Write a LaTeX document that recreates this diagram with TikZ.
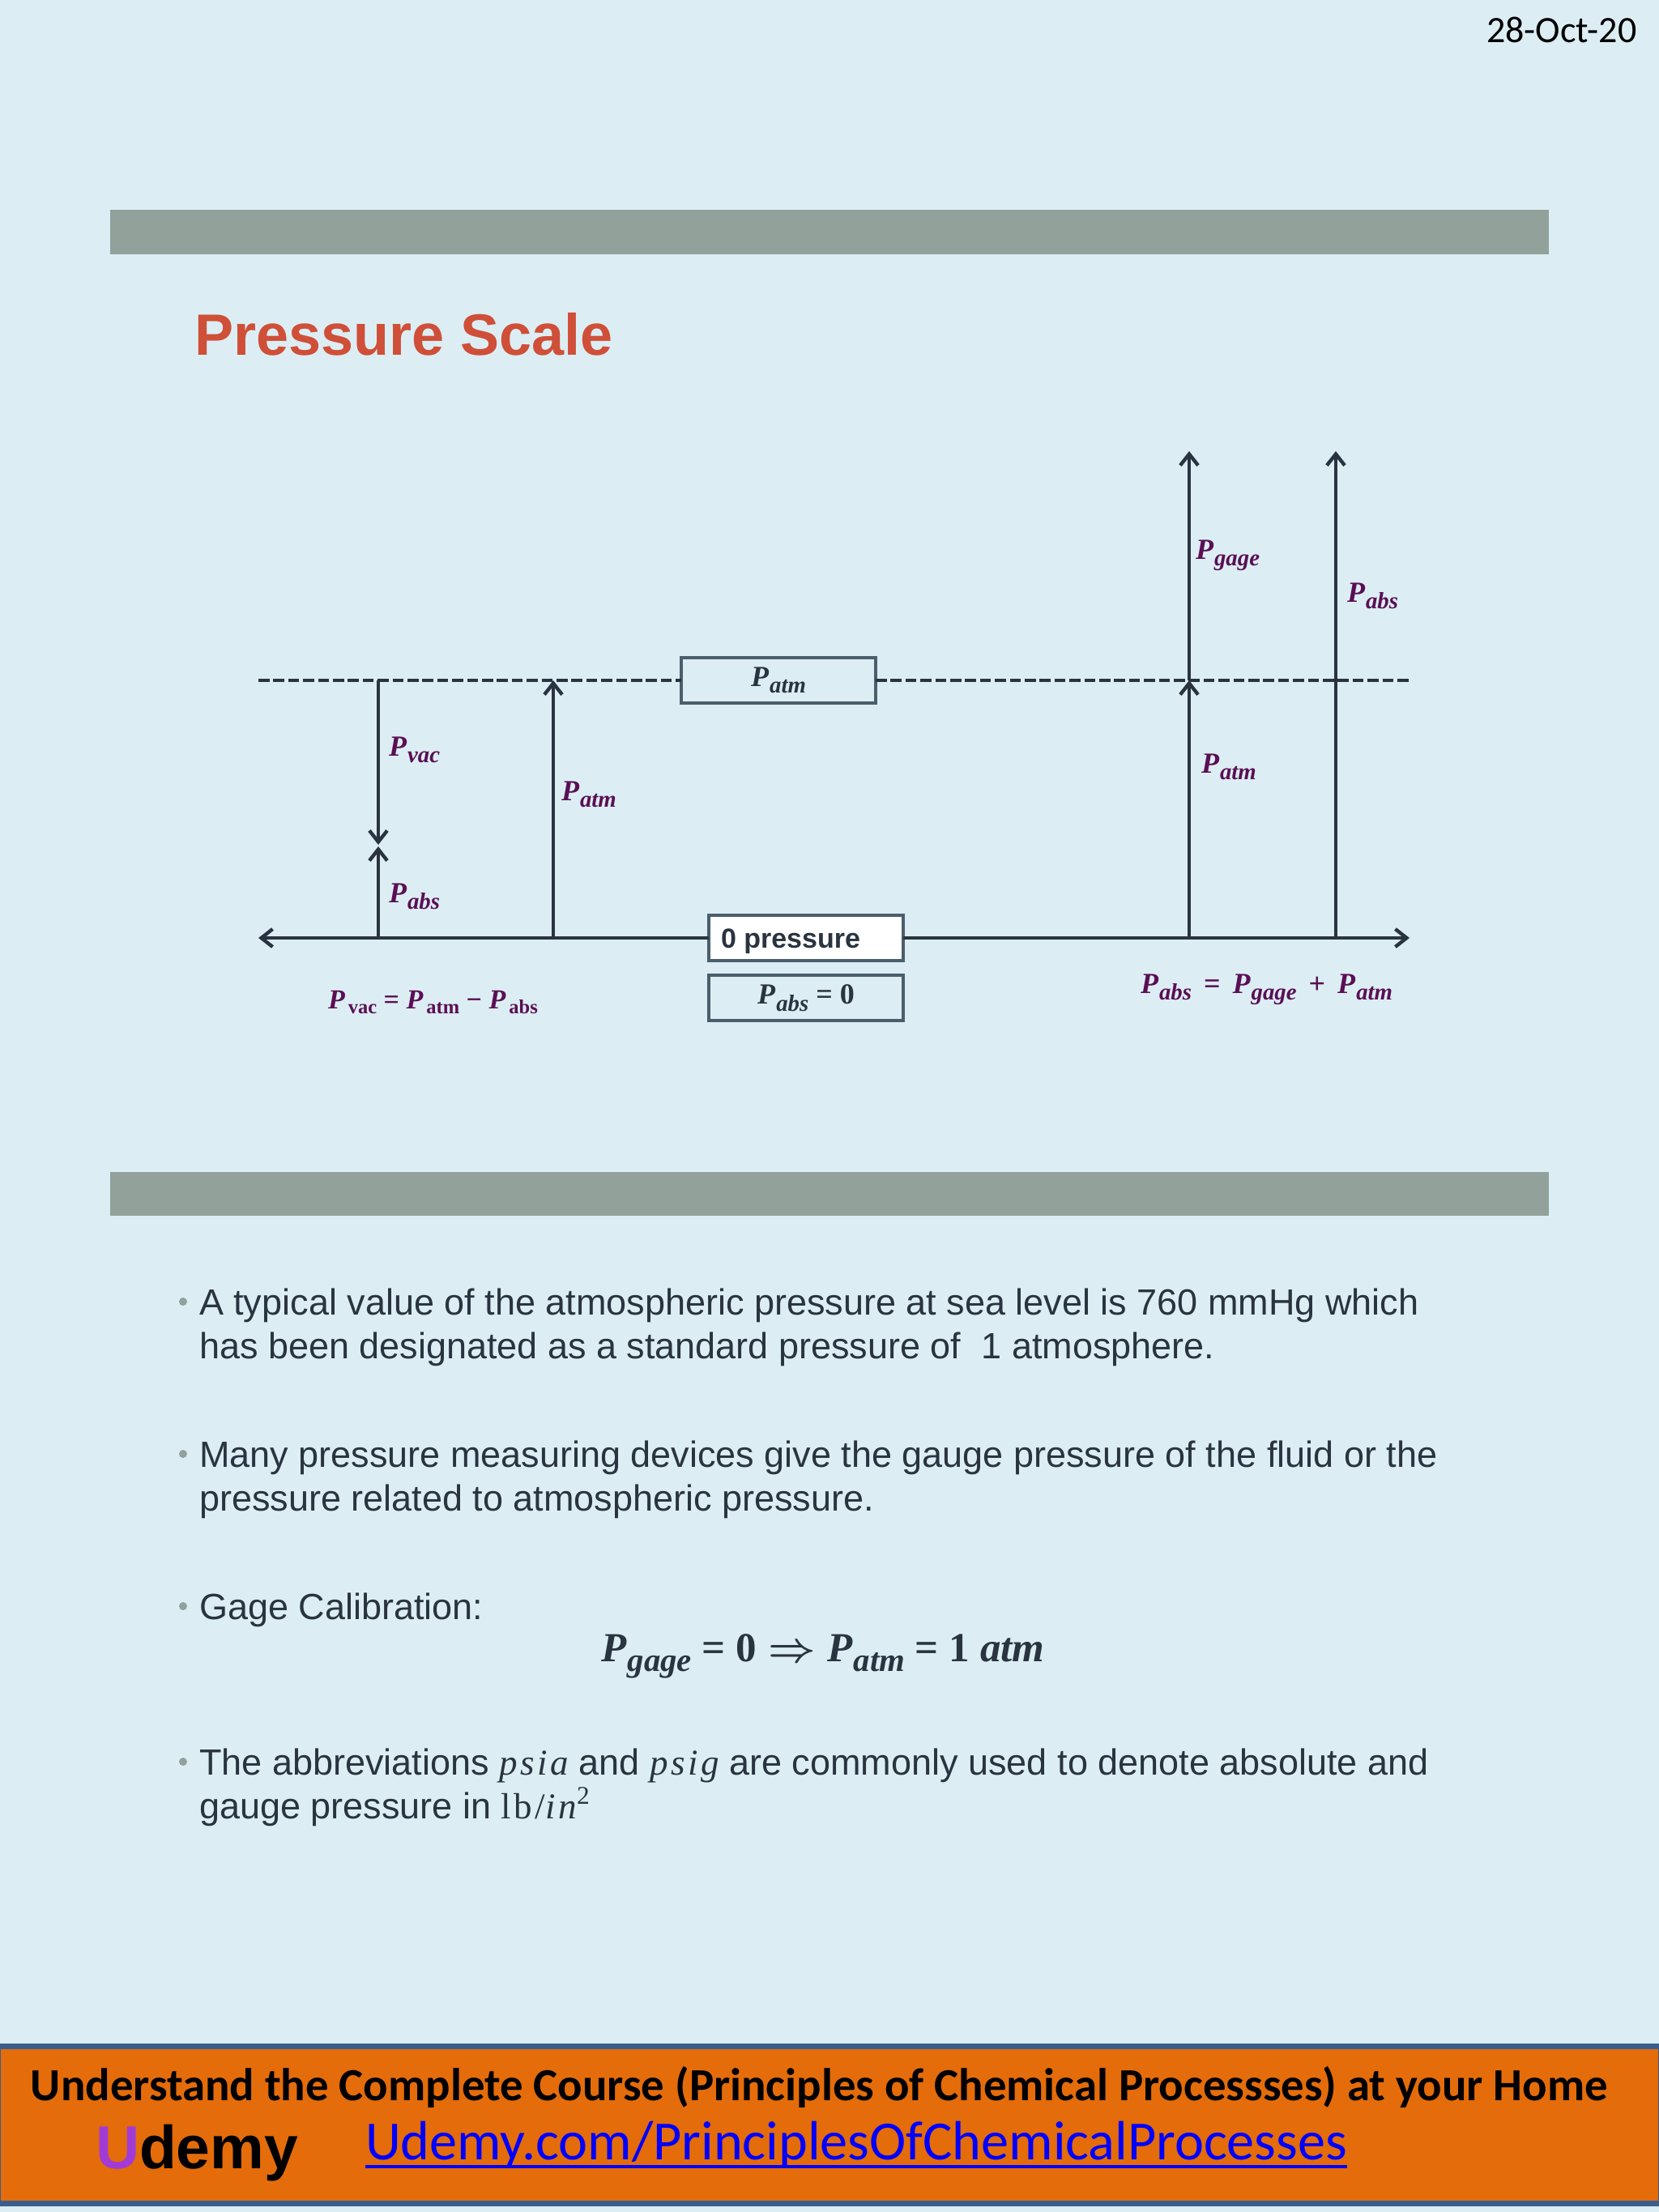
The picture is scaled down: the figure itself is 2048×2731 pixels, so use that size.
\documentclass[tikz,border=0pt]{standalone}
\usepackage{fix-cm}
\usepackage{amsmath}
\usepackage{amssymb}
\usepackage{fontspec}
\setmainfont{Liberation Sans}
\newfontfamily\carlito{Carlito}
\newfontfamily\labfont{Liberation Serif}
\newfontfamily\bodymath[LetterSpace=8]{Liberation Serif}
\usetikzlibrary{arrows.meta,positioning,calc}
\definecolor{slidebg}{HTML}{DCEEF4}
\definecolor{barcol}{HTML}{92A29B}
\definecolor{titlecol}{HTML}{CF4F38}
\definecolor{footcol}{HTML}{E46C0A}
\definecolor{footedge}{HTML}{3A5F8F}
\definecolor{labcol}{HTML}{5A0F55}
\definecolor{linecol}{HTML}{2A3440}
\definecolor{boxcol}{HTML}{4A5F6B}
\newcommand{\pxfont}[1]{\fontsize{#1}{#1}\selectfont}
\newcommand{\psub}[1]{{\labfont\bfseries\itshape P\kern0.03em\raisebox{-0.24em}{\scalebox{0.8}{#1}}}}
\newcommand{\prsub}[1]{{\labfont\bfseries\itshape P\kern0.12em\raisebox{-0.2em}{\scalebox{0.72}{\upshape #1}}}}
\newcommand{\opsym}[1]{{\labfont\bfseries\ #1\ }}

\begin{document}
\begin{tikzpicture}[x=0.5pt, y=-0.5pt, >={Straight Barb[length=7pt,width=11pt]},
  every node/.style={inner sep=0pt, outer sep=0pt, anchor=base west},
  axisline/.style={draw=linecol, line width=2.2pt},
  labeltext/.style={text=labcol, font=\pxfont{18}},
  boxlabel/.style={draw=boxcol, line width=1.6pt, anchor=center, minimum width=120pt, minimum height=28pt, text=linecol, font=\pxfont{18}},
  bodytext/.style={text=linecol, font=\pxfont{22.5}},
  dotmark/.style={circle, fill=barcol, minimum size=5pt, anchor=center}]
\fill[slidebg] (0,0) rectangle (2048,2731);
\useasboundingbox (0,0) rectangle (2048,2731);

% bars and title
\fill[barcol] (136,259) rectangle (1912,314);
\fill[barcol] (136,1447) rectangle (1912,1501);
\node[text=black, font=\carlito\pxfont{23}] (date) at (1835,52) {28-Oct-20};
\node[text=titlecol, font=\bfseries\pxfont{36}] (title) at (240,438) {Pressure Scale};

% scale
\coordinate (dashL) at (319,840);
\coordinate (dashR) at (1740,840);
\coordinate (baseL) at (319,1158);
\coordinate (baseR) at (1740,1158);
\node[boxlabel, minimum width=120pt] (atmbox) at (961,840) {\psub{atm}};
\node[boxlabel, fill=white] (zerobox) at (995,1158) {};
\node[text=linecol, font=\bfseries\pxfont{17}] (zerotext) at (890,1170) {0 pressure};
\node[boxlabel] (absbox) at (995,1232) {\psub{abs}\opsym{=}{\labfont\bfseries 0}};

\draw[axisline, dash pattern=on 6.8pt off 2.4pt] (dashL) -- (atmbox);
\draw[axisline, dash pattern=on 6.8pt off 2.4pt] (atmbox) -- (dashR);
\draw[axisline, <-] (baseL) -- (zerobox);
\draw[axisline, ->] (zerobox) -- (baseR);

\coordinate (vacT) at (467,840);
\coordinate (vacB) at (467,1043);
\coordinate (absT) at (467,1045);
\coordinate (absB) at (467,1158);
\coordinate (atmT) at (683,840);
\coordinate (atmB) at (683,1158);
\coordinate (gageT) at (1468,557);
\coordinate (gageM) at (1468,840);
\coordinate (patmB) at (1468,1158);
\coordinate (pabsT) at (1649,557);
\coordinate (pabsB) at (1649,1158);
\draw[axisline, ->] (vacT) -- (vacB);
\draw[axisline, ->] (absB) -- (absT);
\draw[axisline, ->] (atmB) -- (atmT);
\draw[axisline, ->] (gageM) -- (gageT);
\draw[axisline, ->] (patmB) -- (gageM);
\draw[axisline, ->] (pabsB) -- (pabsT);

\node[labeltext] (lvac) at (480,933) {\psub{vac}};
\node[labeltext] (latm) at (693,988) {\psub{atm}};
\node[labeltext] (labs) at (480,1114) {\psub{abs}};
\node[labeltext] (lgage) at (1476,690) {\psub{gage}};
\node[labeltext] (labsr) at (1663,743) {\psub{abs}};
\node[labeltext] (latmr) at (1483,954) {\psub{atm}};
\node[labeltext, font=\pxfont{17}] (eqvac) at (405,1245) {\prsub{vac}\opsym{=}\prsub{atm}\opsym{\symbol{"2212}}\prsub{abs}};
\node[labeltext] (eqabs) at (1408,1226) {\psub{abs}\,\opsym{=}\,\psub{gage}\,\opsym{+}\,\psub{atm}};

% bullet text
\foreach \dotname/\doty in {da/1607,db/1795,dc/1983,dd/2175}
  \node[dotmark] (\dotname) at (226,\doty) {};
\node[bodytext] (ta) at (246,1623) {A typical value of the atmospheric pressure at sea level is 760 mmHg which};
\node[bodytext] (tb) at (246,1677) {has been designated as a standard pressure of\ \ 1 atmosphere.};
\node[bodytext] (tc) at (246,1811) {Many pressure measuring devices give the gauge pressure of the fluid or the};
\node[bodytext] (td) at (246,1865) {pressure related to atmospheric pressure.};
\node[bodytext] (te) at (246,1999) {Gage Calibration:};
\node[text=linecol, font=\pxfont{25.5}\boldmath] (tf) at (742,2051) {\psub{gage}\opsym{=}{\labfont\bfseries 0}\ $\Rightarrow$\ \psub{atm}\opsym{=}{\labfont\bfseries 1\ \itshape atm}};
\node[bodytext] (tg) at (246,2191) {The abbreviations {\bodymath\itshape psia} and {\bodymath\itshape psig} are commonly used to denote absolute and};
\node[bodytext] (th) at (246,2245) {gauge pressure in {\bodymath lb/\itshape in}\raisebox{0.4em}{\scalebox{0.7}{\labfont 2}}};

% footer
\fill[footedge] (0,2523) rectangle (2048,2724);
\fill[footcol] (1,2530) rectangle (2047,2717);
\node[text=black, font=\carlito\bfseries\pxfont{28.4}] (foot) at (38,2593) {Understand the Complete Course (Principles of Chemical Processses) at your Home};
\node[text=black, font=\bfseries\pxfont{37.5}] (udemy) at (118,2677) {\textcolor[HTML]{A23BD6}{U}demy};
\node[text=blue, font=\carlito\pxfont{34.1}] (link) at (451,2666) {Udemy.com/PrinciplesOfChemicalProcesses};
\draw[blue, line width=2pt] (link.base west) ++(0,9) -- ($(link.base east)+(0,9)$);
\end{tikzpicture}
\end{document}
